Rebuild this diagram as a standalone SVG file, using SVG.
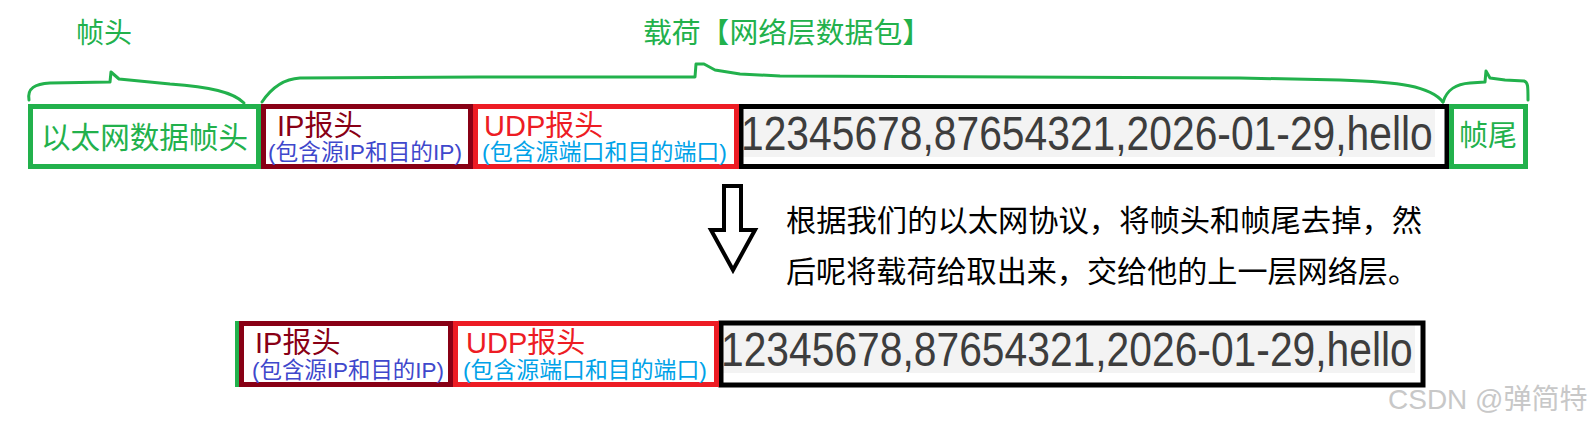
<svg xmlns="http://www.w3.org/2000/svg" width="1595" height="427" viewBox="0 0 1595 427">
<style>
text{font-family:"Liberation Sans","Noto Sans CJK SC",sans-serif}
.g{fill:#22b14c}
.box{fill:none;stroke-width:5}
.bg{fill:#f3f3f3}
.data{font-size:40.8px;fill:#3d3d3d}
.h{font-size:29px}
.sub{font-size:22.5px}
.brace{fill:none;stroke:#22b14c;stroke-width:3;stroke-linejoin:round;stroke-linecap:round}
</style>
<rect width="1595" height="427" fill="#fff"/>
<g id="labels">
<text class="g" x="76" y="43" font-size="28">帧头</text>
<text class="g" x="643" y="43" font-size="28" textLength="288" lengthAdjust="spacingAndGlyphs">载荷【网络层数据包】</text>
</g>
<g id="connectors">
<path class="brace" d="M29,100 C27,88 35,84 50,83 L110,82 L111,72 L119,79 L170,84 C210,87 233,92 244,103"/>
<path class="brace" d="M262,102 C270,90 282,79 300,78 L480,77 L695,77 L696,64 L704,64 L715,70 L740,74 L780,76 L1240,78 L1340,80 C1400,82 1430,86 1443,102"/>
<path class="brace" d="M1443,102 C1447,90 1455,84 1470,83 L1485,82 L1486,71 L1490,78 L1505,80 L1524,81 C1528,82 1528,86 1528,100"/>
<polygon points="724,186 741,186 741,230 755,230 733,270 711,230 724,230" fill="#fff" stroke="#000" stroke-width="4" stroke-linejoin="miter"/>
</g>
<g id="top-eth-header">
<rect class="box" x="30.5" y="106.5" width="228" height="60" stroke="#22b14c"/>
<text class="g" x="41" y="148" font-size="30" textLength="207" lengthAdjust="spacingAndGlyphs">以太网数据帧头</text>
</g>
<g id="top-payload">
<rect class="bg" x="741" y="108" width="694" height="49"/>
<rect class="box" x="741" y="106.5" width="706" height="60" stroke="#000" stroke-width="4.5"/>
<text class="data" transform="translate(741,150) scale(1,1.18)">12345678,87654321,2026-01-29,hello</text>
</g>
<g id="top-ip">
<rect class="box" x="263.5" y="106.5" width="207" height="60" stroke="#880015"/>
<text class="h" x="277" y="136" fill="#880015">IP报头</text>
<text class="sub" x="268" y="160" fill="#3f48cc" textLength="194" lengthAdjust="spacingAndGlyphs">(包含源IP和目的IP)</text>
</g>
<g id="top-udp">
<rect class="box" x="475.5" y="106.5" width="261" height="60" stroke="#ed1c24"/>
<text class="h" x="484" y="136" fill="#ed1c24">UDP报头</text>
<text class="sub" x="482" y="160" fill="#00a2e8" textLength="245" lengthAdjust="spacingAndGlyphs">(包含源端口和目的端口)</text>
</g>
<g id="top-eth-trailer">
<rect class="box" x="1451.5" y="106.5" width="74" height="60" stroke="#22b14c"/>
<text class="g" x="1459" y="146" font-size="29">帧尾</text>
</g>
<g id="description">
<text x="786" y="231" font-size="30" fill="#000" textLength="636" lengthAdjust="spacingAndGlyphs">根据我们的以太网协议，将帧头和帧尾去掉，然</text>
<text x="786" y="282" font-size="30" fill="#000" textLength="632" lengthAdjust="spacingAndGlyphs">后呢将载荷给取出来，交给他的上一层网络层。</text>
</g>
<g id="bottom-edge">
<line x1="237" y1="321" x2="237" y2="387" stroke="#22b14c" stroke-width="4"/>
</g>
<g id="bottom-payload">
<rect class="bg" x="721" y="325" width="694" height="48"/>
<rect class="box" x="721" y="323" width="702" height="62" stroke="#000" stroke-width="4.5"/>
<text class="data" transform="translate(721,366) scale(1,1.18)">12345678,87654321,2026-01-29,hello</text>
</g>
<g id="bottom-ip">
<rect class="box" x="241.5" y="323.5" width="209" height="61" stroke="#880015"/>
<text class="h" x="255" y="353" fill="#880015">IP报头</text>
<text class="sub" x="252" y="378" fill="#3f48cc" textLength="192" lengthAdjust="spacingAndGlyphs">(包含源IP和目的IP)</text>
</g>
<g id="bottom-udp">
<rect class="box" x="455.5" y="323.5" width="261" height="61" stroke="#ed1c24"/>
<text class="h" x="466" y="353" fill="#ed1c24">UDP报头</text>
<text class="sub" x="463" y="378" fill="#00a2e8" textLength="244" lengthAdjust="spacingAndGlyphs">(包含源端口和目的端口)</text>
</g>
<g id="watermark">
<text x="1388" y="409" font-size="28" fill="#c8c8c8">CSDN @弹简特</text>
</g>
</svg>
